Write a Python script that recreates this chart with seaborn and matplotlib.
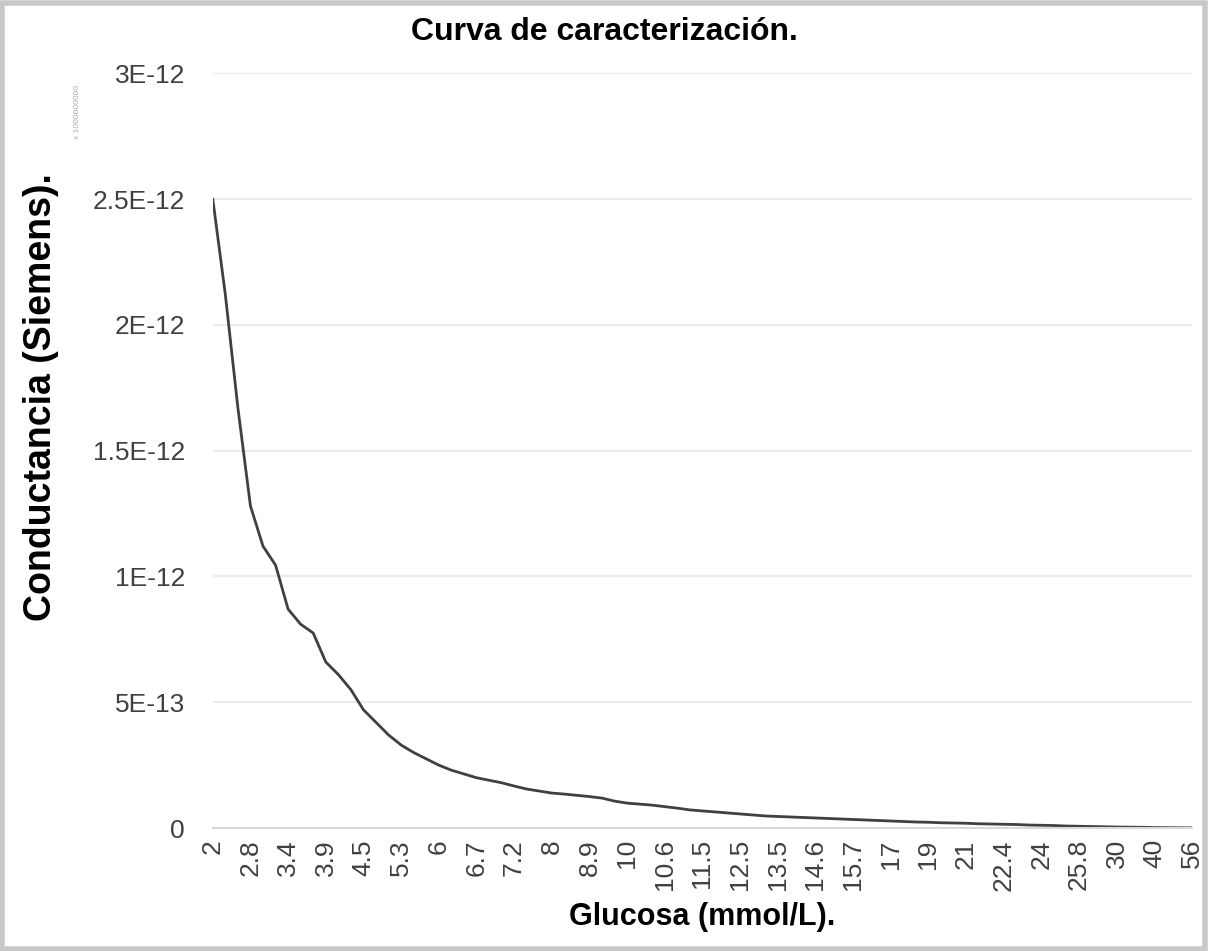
import numpy as np
import pandas as pd
import seaborn as sns
import matplotlib.pyplot as plt
from matplotlib.patches import Rectangle

# conductance (units of 1E-12 S), 3 samples per labelled category
conductance = [2.50, 2.12, 1.67, 1.28, 1.12, 1.045, 0.87, 0.81, 0.775, 0.66,
               0.61, 0.55, 0.47, 0.42, 0.37, 0.33, 0.30, 0.275, 0.25, 0.23,
               0.215, 0.20, 0.19, 0.18, 0.167, 0.155, 0.147, 0.139, 0.135, 0.130,
               0.125, 0.119, 0.107, 0.099, 0.095, 0.091, 0.085, 0.079, 0.072, 0.068,
               0.064, 0.060, 0.056, 0.052, 0.048, 0.046, 0.044, 0.042, 0.040, 0.038,
               0.036, 0.034, 0.032, 0.030, 0.028, 0.026, 0.024, 0.023, 0.021, 0.020,
               0.019, 0.017, 0.016, 0.015, 0.014, 0.012, 0.011, 0.010, 0.008, 0.007,
               0.006, 0.005, 0.004, 0.0035, 0.003, 0.002, 0.0015, 0.001, 0.0005]

glucose_labels = ['2', '2.8', '3.4', '3.9', '4.5', '5.3', '6', '6.7', '7.2', '8',
                  '8.9', '10', '10.6', '11.5', '12.5', '13.5', '14.6', '15.7', '17',
                  '19', '21', '22.4', '24', '25.8', '30', '40', '56']

y_ticks = [0, 0.5e-12, 1e-12, 1.5e-12, 2e-12, 2.5e-12, 3e-12]
y_tick_labels = ['0', '5E-13', '1E-12', '1.5E-12', '2E-12', '2.5E-12', '3E-12']

df = pd.DataFrame({'idx': np.arange(len(conductance)),
                   'G': np.array(conductance) * 1e-12})

sns.set_theme(style="white")
plt.rcParams['font.family'] = ['Liberation Sans', 'DejaVu Sans']

fig = plt.figure(figsize=(12.09, 9.51), dpi=100)
ax = fig.add_axes([0.176, 0.1293, 0.81, 0.7937])

sns.lineplot(data=df, x='idx', y='G', ax=ax, color='#404040', linewidth=2.0)

ax.set_xlim(0, len(conductance) - 1)
ax.set_ylim(0, 3e-12)
ax.set_yticks(y_ticks)
ax.set_yticklabels(y_tick_labels)
step = (len(conductance) - 1) // (len(glucose_labels) - 1)
ax.set_xticks(np.arange(0, len(conductance), step))
ax.set_xticklabels(glucose_labels, rotation=90)
ax.tick_params(axis='y', length=0, pad=20, labelsize=19, labelcolor='#404040')
ax.tick_params(axis='x', length=0, pad=8, labelsize=19, labelcolor='#404040')

ax.grid(axis='y', color='#ebebeb', linewidth=1.5)
ax.set_axisbelow(True)
for s in ['top', 'right', 'left']:
    ax.spines[s].set_visible(False)
ax.spines['bottom'].set_color('#d9d9d9')
ax.spines['bottom'].set_linewidth(1.5)

ax.set_xlabel('Glucosa (mmol/L).', fontsize=22, fontweight='bold', color='black', labelpad=8)
ax.set_ylabel('')
fig.text(0.034, 0.583, 'Conductancia (Siemens).', rotation=90, fontsize=27,
         fontweight='bold', ha='center', va='center', color='black')
fig.text(0.5, 0.966, 'Curva de caracterización.', fontsize=23, fontweight='bold',
         ha='center', va='center', color='black')
fig.text(0.064, 0.882, 'x 1000000000', rotation=90, fontsize=6, color='#aaaaaa',
         ha='center', va='center')

fig.patches.append(Rectangle((0.0015, 0.002), 0.995, 0.995, transform=fig.transFigure,
                             fill=False, edgecolor='#c8c8c8', linewidth=4))

fig.savefig('out.png', dpi=100)
